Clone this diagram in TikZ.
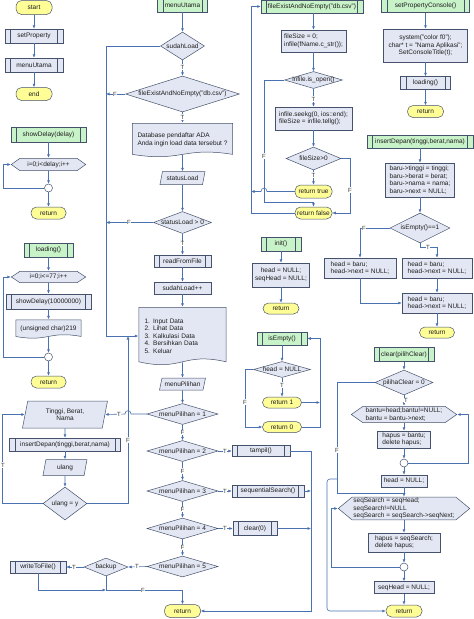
\documentclass[tikz,border=0pt]{standalone}
\usepackage{fontspec}
\setmainfont{Liberation Sans}
\usetikzlibrary{shapes.geometric,arrows.meta}
\definecolor{conncol}{RGB}{74,114,176}
\definecolor{bordcol}{RGB}{70,82,108}
\definecolor{procfill}{RGB}{226,231,243}
\definecolor{greenfill}{RGB}{200,242,200}
\definecolor{termfill}{RGB}{255,253,150}
\definecolor{txtcol}{RGB}{30,30,30}
\definecolor{labcol}{RGB}{50,50,50}
\newcommand{\zb}[1]{\makebox[0pt]{#1}}
\begin{document}
\begin{tikzpicture}[x=1pt,y=-1pt,
  every node/.style={font=\fontsize{6.5}{7.6}\selectfont, text=txtcol},
  box/.style={draw=bordcol, line width=0.5pt, inner sep=1pt},
  proc/.style={box, rectangle, fill=procfill},
  predef/.style={proc, path picture={\draw[bordcol,line width=0.5pt]
     ([xshift=5.5pt]path picture bounding box.north west) -- ([xshift=5.5pt]path picture bounding box.south west)
     ([xshift=-5.5pt]path picture bounding box.north east) -- ([xshift=-5.5pt]path picture bounding box.south east);}},
  gpredef/.style={predef, fill=greenfill},
  term/.style={box, rectangle, rounded corners=5.5pt, fill=termfill},
  dec/.style={box, diamond, inner sep=0pt, fill=procfill},
  io/.style={box, trapezium, trapezium left angle=70, trapezium right angle=110,
     trapezium stretches body=true, fill=procfill},
  hexa/.style={rectangle, inner sep=1pt, fill=white, path picture={\filldraw[fill=procfill, draw=bordcol, line width=0.5pt]
     ([xshift=0.3pt]path picture bounding box.west)
     -- ([xshift=#1, yshift=-0.3pt]path picture bounding box.north west)
     -- ([xshift=-#1, yshift=-0.3pt]path picture bounding box.north east)
     -- ([xshift=-0.3pt]path picture bounding box.east)
     -- ([xshift=-#1, yshift=0.3pt]path picture bounding box.south east)
     -- ([xshift=#1, yshift=0.3pt]path picture bounding box.south west) -- cycle;}},
  docu/.style={rectangle, inner sep=1pt, fill=white, path picture={\filldraw[fill=procfill, draw=bordcol, line width=0.5pt]
     ([xshift=0.3pt,yshift=-0.3pt]path picture bounding box.north west)
     -- ([xshift=-0.3pt,yshift=-0.3pt]path picture bounding box.north east)
     -- ([xshift=-0.3pt,yshift={0.29*#1+0.3}]path picture bounding box.south east)
     .. controls ([yshift={1.29*#1+0.3}]path picture bounding box.south) and ([yshift={-0.71*#1+0.3}]path picture bounding box.south)
     .. ([xshift=0.3pt,yshift={0.29*#1+0.3}]path picture bounding box.south west) -- cycle;}},
  junc/.style={box, circle, fill=white, minimum size=8pt, inner sep=0pt},
  conn/.style={draw=conncol, line width=0.6pt},
  arr/.style={conn, -{Latex[length=3.5pt,width=3pt]}},
  lab/.style={font=\fontsize{6}{7}\selectfont, text=labcol, fill=white, inner sep=0.6pt}
]
\useasboundingbox (0,0) rectangle (474,619);

% ---------- left column ----------
\node[term, minimum width=36, minimum height=14] (start) at (34,7.5) {start};
\node[predef, minimum width=58, minimum height=14] (setp) at (34,36) {setProperty};
\node[predef, minimum width=58, minimum height=14] (mu1) at (34,65) {menuUtama};
\node[term, minimum width=36, minimum height=13] (end) at (34,94) {end};

\node[gpredef, minimum width=75, minimum height=15] (sdh) at (48.5,134.5) {showDelay(delay)};
\node[hexa=9pt, minimum width=75, minimum height=13] (lp1) at (48.5,164.5) {i=0;i<delay;i++};
\node[junc] (c1) at (48.5,188) {};
\node[term, minimum width=35, minimum height=12] (ret1) at (48.5,213) {return};

\node[gpredef, minimum width=49, minimum height=14] (ldh) at (48.5,250) {loading()};
\node[hexa=9pt, minimum width=75, minimum height=12] (lp2) at (48.5,277) {i=0;i<=77;i++};
\node[predef, minimum width=85, minimum height=15] (sd10) at (48.5,301.5) {showDelay(10000000)};
\node[docu=6, minimum width=66, minimum height=19] (uc) at (48.5,329) {(unsigned char)219};
\node[junc] (c2) at (48.5,357) {};
\node[term, minimum width=35, minimum height=12] (ret2) at (48.5,382) {return};

\node[io, minimum width=85, minimum height=27, align=center] (inp) at (65,414.5) {Tinggi, Berat,\\Nama};
\node[predef, minimum width=111, minimum height=13] (insd) at (65,444.5) {insertDepan(tinggi,berat,nama)};
\node[io, minimum width=44, minimum height=16] (ul) at (65,467.5) {ulang};
\node[dec, minimum width=44, minimum height=33] (uld) at (65,503.5) {\zb{ulang = y}};
\node[predef, minimum width=56, minimum height=12] (wtf) at (38,567) {writeToFile()};
\node[dec, minimum width=44, minimum height=18] (bk) at (106,567) {\zb{backup}};

% ---------- main column ----------
\node[gpredef, minimum width=50, minimum height=13] (mu2) at (182.5,5.5) {menuUtama};
\node[dec, minimum width=44, minimum height=28] (sdl) at (182.5,46) {\zb{sudahLoad}};
\node[dec, minimum width=114, minimum height=36] (fe) at (182.5,94) {\zb{fileExistAndNoEmpty("db.csv")}};
\node[docu=8, minimum width=101, minimum height=34, align=left] (q) at (182.5,140) {Database pendaftar ADA\\Anda ingin load data tersebut ?};
\node[io, minimum width=45, minimum height=13] (stl) at (182.5,178) {statusLoad};
\node[dec, minimum width=58, minimum height=22] (sl0) at (182.5,222.5) {\zb{statusLoad > 0}};
\node[predef, minimum width=57, minimum height=12] (rff) at (182.5,261) {readFromFile};
\node[proc, minimum width=57, minimum height=12] (sdpp) at (182.5,288) {sudahLoad++};
\node[docu=10, minimum width=88, minimum height=58, text width=76, align=left] (menu) at (182.5,336) {1. Input Data\\2. Lihat Data\\3. Kalkulasi Data\\4. Bersihkan Data\\5. Keluar};
\node[io, minimum width=46, minimum height=12] (mp) at (182.5,384) {menuPilihan};
\node[dec, minimum width=71, minimum height=21] (mp1) at (182.5,414) {\zb{menuPilihan = 1}};
\node[dec, minimum width=71, minimum height=21] (mp2) at (182.5,451) {\zb{menuPilihan = 2}};
\node[dec, minimum width=71, minimum height=21] (mp3) at (182.5,491) {\zb{menuPilihan = 3}};
\node[dec, minimum width=71, minimum height=21] (mp4) at (182.5,528.5) {\zb{menuPilihan = 4}};
\node[dec, minimum width=71, minimum height=21] (mp5) at (182.5,566.5) {\zb{menuPilihan = 5}};
\node[term, minimum width=36, minimum height=13] (ret) at (182.5,611) {return};

\node[predef, minimum width=58, minimum height=11] (tp) at (261,451) {tampil()};
\node[predef, minimum width=72, minimum height=12] (ss) at (268,491) {sequentialSearch()};
\node[predef, minimum width=44, minimum height=14] (cl0) at (255,528.5) {clear(0)};

% ---------- fileExistAndNoEmpty ----------
\node[gpredef, minimum width=102, minimum height=13] (fe2) at (312,6.5) {fileExistAndNoEmpty("db.csv")};
\node[proc, minimum width=65, minimum height=22, align=left] (p1) at (313.5,41) {fileSize = 0;\\infile(fName.c\_str());};
\node[dec, minimum width=58, minimum height=17] (iso) at (313.5,80) {\zb{infile.is\_open()}};
\node[proc, minimum width=77, minimum height=23, align=left] (p2) at (313.5,118.5) {infile.seekg(0, ios::end);\\fileSize = infile.tellg();};
\node[dec, minimum width=55, minimum height=23] (fs) at (313.5,158.5) {\zb{fileSize>0}};
\node[term, minimum width=37, minimum height=13] (rtt) at (313.5,191.5) {return true};
\node[term, minimum width=37, minimum height=12] (rtf) at (313.5,213) {return false};

% ---------- setPropertyConsole / insertDepan ----------
\node[gpredef, minimum width=88, minimum height=13] (spc) at (425.5,6) {setPropertyConsole()};
\node[proc, minimum width=84, minimum height=33, align=center] (p3) at (425.5,45.5) {system("color f0");\\char* t = "Nama Aplikasi";\\SetConsoleTitle(t);};
\node[predef, minimum width=50, minimum height=13] (ldg) at (425.5,83) {loading()};
\node[term, minimum width=36, minimum height=12] (ret3) at (425.5,111.5) {return};
\node[gpredef, minimum width=106, minimum height=13] (insd2) at (420,141.5) {insertDepan(tinggi,berat,nama)};
\node[proc, minimum width=69, minimum height=34, align=left] (p4) at (420,180) {baru->tinggi = tinggi;\\baru->berat = berat;\\baru->nama = nama;\\baru->next = NULL;};
\node[dec, minimum width=60, minimum height=30] (ie) at (420,228) {\zb{isEmpty()==1}};
\node[proc, minimum width=72, minimum height=20, align=left] (hbl) at (360,268) {head = baru;\\head->next = NULL;};
\node[proc, minimum width=70, minimum height=20, align=left] (hbr) at (437,268) {head = baru;\\head->next = NULL;};
\node[proc, minimum width=70, minimum height=20, align=left] (hbb) at (437,303) {head = baru;\\head->next = NULL;};
\node[term, minimum width=35, minimum height=11] (ret4) at (437,332.5) {return};

% ---------- init / isEmpty ----------
\node[gpredef, minimum width=40, minimum height=14] (ini) at (281,244) {init()};
\node[proc, minimum width=57, minimum height=24, align=center] (p5) at (281,275) {head = NULL;\\seqHead = NULL;};
\node[term, minimum width=36, minimum height=11] (ret5) at (281,308.5) {return};

\node[gpredef, minimum width=50, minimum height=13] (iem) at (282,338.5) {isEmpty()};
\node[dec, minimum width=57, minimum height=16] (hnd) at (282,369.5) {\zb{head = NULL}};
\node[term, minimum width=39, minimum height=11] (r1) at (282,402.5) {return 1};
\node[term, minimum width=39, minimum height=11] (r0) at (282,427) {return 0};

% ---------- clear ----------
\node[gpredef, minimum width=60, minimum height=14] (clr) at (404,354.5) {clear(pilihClear)};
\node[dec, minimum width=58, minimum height=25] (pcd) at (404,382.5) {\zb{pilihaClear = 0}};
\node[hexa=12pt, minimum width=106, minimum height=17, align=left] (hx1) at (404,414.5) {bantu=head;bantu!=NULL;\\bantu = bantu->next;};
\node[proc, minimum width=53, minimum height=17, align=left] (p6) at (404,439.5) {hapus = bantu;\\delete hapus;};
\node[junc] (c3) at (404,463) {};
\node[proc, minimum width=46, minimum height=12] (hnl) at (404,481) {head = NULL;};
\node[hexa=14pt, minimum width=132, minimum height=23, align=left] (hx2) at (404,508.5) {seqSearch = seqHead;\\seqSearch!=NULL\\seqSearch = seqSearch->seqNext;};
\node[proc, minimum width=72, minimum height=19, align=left] (p7) at (404,542.5) {hapus = seqSearch;\\delete hapus;};
\node[junc] (c4) at (404,567) {};
\node[proc, minimum width=60, minimum height=12] (shn) at (404,587.5) {seqHead = NULL;};
\node[term, minimum width=36, minimum height=12] (ret6) at (404,611) {return};

% ---------- junction coordinates ----------
\coordinate (jA) at (128,336);
\coordinate (jB) at (106,94);
\coordinate (jC) at (106,222.5);
\coordinate (jD) at (106,590);
\coordinate (jE) at (311,491);
\coordinate (jF) at (311,528.5);
\coordinate (jG) at (251,191.5);
\coordinate (jH) at (320,402.5);
\coordinate (jI) at (337,479);
\coordinate (jJ) at (404,493);

% ---------- connectors: left ----------
\draw[arr] (start) -- (setp);
\draw[arr] (setp) -- (mu1);
\draw[arr] (mu1) -- (end);
\draw[arr] (sdh) -- (lp1);
\draw[arr] (lp1) -- (c1);
\draw[arr] (c1) -- (ret1);
\draw[arr] (c1.west) -- ++(-41,0) |- (lp1.west);
\draw[arr] (ldh) -- (lp2);
\draw[arr] (lp2) -- (sd10);
\draw[arr] (sd10) -- (uc);
\draw[arr] ([yshift=1.8pt]uc.south) -- (c2);
\draw[arr] (c2) -- (ret2);
\draw[arr] (c2.west) -- ++(-41,0) |- (lp2.west);

\draw[arr] (inp) -- (insd);
\draw[arr] (insd) -- (ul);
\draw[arr] (ul) -- (uld);
\draw[arr] (uld.west) -- ++(-40,0) |- (inp.west);
\draw[arr] (uld.east) -| (jA);
\draw[arr] (mp1.west) -- (131,414) .. controls (131,409.5) and (125,409.5) .. (125,414) -- (inp.east);

% ---------- connectors: main ----------
\draw[arr] (mu2) -- (sdl);
\draw[arr] (sdl) -- (fe);
\draw[arr] (fe) -- (q);
\draw[arr] ([yshift=2.3pt]q.south) -- (stl);
\draw[arr] (stl) -- (sl0);
\draw[arr] (sl0) -- (rff);
\draw[arr] (rff) -- (sdpp);
\draw[arr] (sdpp) -- (menu);
\draw[arr] ([yshift=2.9pt]menu.south) -- (mp);
\draw[arr] (mp) -- (mp1);
\draw[arr] (mp1) -- (mp2);
\draw[arr] (mp2) -- (mp3);
\draw[arr] (mp3) -- (mp4);
\draw[arr] (mp4) -- (mp5);
\draw[arr] (sdl.west) -- (106,46) |- (menu.west);
\draw[arr] (fe.west) -- (jB);
\draw[arr] (sl0.west) -- (jC);

\draw[arr] (mp2.east) -- (tp.west);
\draw[arr] (mp3.east) -- (ss.west);
\draw[arr] (mp4.east) -- (cl0.west);
\draw[arr] (tp.east) -- (311,451) |- (ret.east);
\draw[arr] (ss.east) -- (jE);
\draw[arr] (cl0.east) -- (jF);

\draw[arr] (mp5.west) -- (bk.east);
\draw[arr] (bk.west) -- (wtf.east);
\draw[arr] (wtf.south) |- (jD);
\draw[arr] (bk.south) -- (jD) -| (ret.north);

% ---------- connectors: fileExistAndNoEmpty ----------
\draw[arr] (p1.north |- fe2.south) -- (p1);
\draw[arr] (p1) -- (iso);
\draw[arr] (iso) -- (p2);
\draw[arr] (p2) -- (fs);
\draw[arr] (fs) -- (rtt);
\draw[arr] (iso.west) -- (264,80) -- (264,202) -| (rtf.north);
\draw[arr] (fs.east) -- (350,158.5) |- (rtf.east);
\draw[arr] (rtt.west) -- (267,191.5) .. controls (267,187) and (261,187) .. (261,191.5) -- (jG);
\draw[arr] (rtf.west) -- (251,213) |- (fe2.west);

% ---------- connectors: setPropertyConsole / insertDepan ----------
\draw[arr] (spc) -- (p3);
\draw[arr] (p3) -- (ldg);
\draw[arr] (ldg) -- (ret3);
\draw[arr] (insd2) -- (p4);
\draw[arr] (p4) -- (ie);
\draw[arr] (ie.west) -| (hbl.north);
\draw[arr] (ie.south) -- (420,247) -| (hbr.north);
\draw[arr] (hbl.south) |- (hbb.west);
\draw[arr] (hbr) -- (hbb);
\draw[arr] (hbb) -- (ret4);

% ---------- connectors: init / isEmpty ----------
\draw[arr] (ini) -- (p5);
\draw[arr] (p5) -- (ret5);
\draw[arr] (iem) -- (hnd);
\draw[arr] (hnd) -- (r1);
\draw[arr] (hnd.west) -- (245,369.5) |- (r0.west);
\draw[arr] (r0.east) -- (320,427) |- (iem.east);
\draw[arr] (r1.east) -- (jH);

% ---------- connectors: clear ----------
\draw[arr] (clr) -- (pcd);
\draw[arr] (pcd) -- (hx1);
\draw[arr] (hx1) -- (p6);
\draw[arr] (p6) -- (c3);
\draw[arr] (c3) -- (hnl);
\draw[arr] (c3.east) -- (468,463) |- (hx1.east);
\draw[conn] (pcd.west) -- (337,382.5) |- (jJ);
\draw[arr] (hnl) -- (hx2);
\draw[arr, rounded corners=3pt] (jI) -- (327,479) |- (ret6.west);
\draw[arr] (hx2) -- (p7);
\draw[arr] (p7) -- (c4);
\draw[arr] (c4) -- (shn);
\draw[arr] (shn) -- (ret6);
\draw[arr] (c4.west) -- (331,567) |- (hx2.west);

% ---------- T / F labels ----------
\node[lab] (lt1) at (182.5,67) {T};
\node[lab] (lt2) at (182.5,117) {T};
\node[lab] (lt3) at (182.5,243.5) {T};
\node[lab] (lf1) at (182.5,432.5) {F};
\node[lab] (lf2) at (182.5,471) {F};
\node[lab] (lf3) at (182.5,509.5) {F};
\node[lab] (lf4) at (182.5,547.5) {F};
\node[lab] (lt4) at (119,414) {T};
\node[lab] (lf5) at (115,94) {F};
\node[lab] (lf6) at (129,222.5) {F};
\node[lab] (lf7) at (128,440) {F};
\node[lab] (lt5) at (3,465) {T};
\node[lab] (lt6) at (225,451) {T};
\node[lab] (lt7) at (225,491) {T};
\node[lab] (lt8) at (225,528.5) {T};
\node[lab] (lt9) at (137,566.5) {T};
\node[lab] (lt10) at (74,567) {T};
\node[lab] (lf8) at (143,590) {F};
\node[lab] (lt11) at (313.5,99) {T};
\node[lab] (lt12) at (313.5,175) {T};
\node[lab] (lf9) at (264,156) {F};
\node[lab] (lf10) at (350,190) {F};
\node[lab] (lf11) at (364,228) {F};
\node[lab] (lt13) at (428,247) {T};
\node[lab] (lt14) at (282,385) {T};
\node[lab] (lf12) at (245,402) {F};
\node[lab] (lt15) at (406,400.5) {T};
\node[lab] (lf13) at (337,450) {F};
\end{tikzpicture}
\end{document}
